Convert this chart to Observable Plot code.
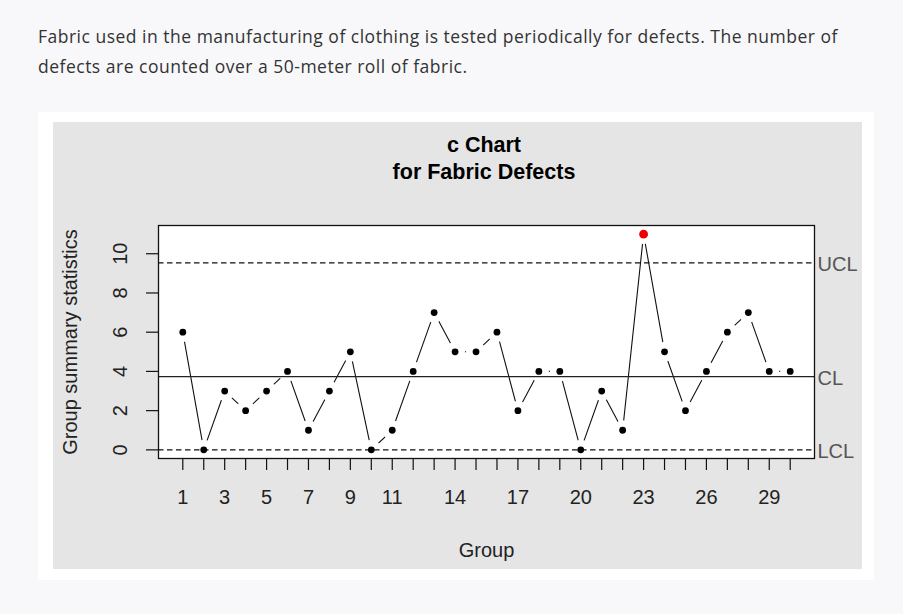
<!DOCTYPE html>
<html>
<head>
<meta charset="utf-8">
<script src="https://cdn.jsdelivr.net/npm/d3@7"></script>
<script src="https://cdn.jsdelivr.net/npm/@observablehq/plot@0.6"></script>
<style>
  html, body { margin: 0; padding: 0; background: #f8f8fa; width: 903px; height: 614px; overflow: hidden; }
  #intro { position: absolute; left: 38px; top: 21px; font-family: "Open Sans", sans-serif; font-size: 17.5px; letter-spacing: 0.5px; line-height: 30px; color: #333; white-space: nowrap; }
  #card { position: absolute; left: 38px; top: 112px; width: 836px; height: 468px; background: #fff; }
  #panel { position: absolute; left: 53px; top: 122px; width: 809px; height: 447px; background: #e5e5e5; }
  .title { position: absolute; left: 231px; width: 400px; text-align: center; font-family: "Liberation Sans", Arial, sans-serif; font-weight: bold; font-size: 21.5px; color: #000; }
  #chart { position: absolute; left: 0; top: 0; }
</style>
</head>
<body>
<div id="intro">Fabric used in the manufacturing of clothing is tested periodically for defects. The number of<br>defects are counted over a 50-meter roll of fabric.</div>
<div id="card"></div>
<div id="panel">
  <div id="chart"></div>
  <div class="title" style="top:11px;">c Chart</div>
  <div class="title" style="top:38px;">for Fabric Defects</div>
</div>
<script>
const groups = [1,2,3,4,5,6,7,8,9,10,11,12,13,14,15,16,17,18,19,20,21,22,23,24,25,26,27,28,29,30];
const defects = [6,0,3,2,3,4,1,3,5,0,1,4,7,5,5,6,2,4,4,0,3,1,11,5,2,4,6,7,4,4];
const xTickLabels = [1,3,5,7,9,11,14,17,20,23,26,29];
const yTicks = [0,2,4,6,8,10];
const limitNames = ["UCL","CL","LCL"];

const n = defects.length;
const cbar = d3.sum(defects) / n;
const ucl = cbar + 3 * Math.sqrt(cbar);
const lcl = Math.max(0, cbar - 3 * Math.sqrt(cbar));
const limits = [
  {name: limitNames[0], value: ucl, dashed: true},
  {name: limitNames[1], value: cbar, dashed: false},
  {name: limitNames[2], value: lcl, dashed: true}
];
const data = groups.map((g, i) => ({group: g, value: defects[i], out: defects[i] > ucl || defects[i] < lcl}));

const font = '"Liberation Sans", Arial, sans-serif';
const chart = Plot.plot({
  width: 809,
  height: 447,
  marginLeft: 105,
  marginRight: 48,
  marginTop: 103,
  marginBottom: 111,
  style: {background: "transparent", fontFamily: font, fontSize: "20px", color: "#222", overflow: "visible"},
  x: {domain: [1 - 29 * 0.04, 30 + 29 * 0.04]},
  y: {domain: [-11 * 0.04, 11 + 11 * 0.04]},
  marks: [
    Plot.frame({fill: "white", stroke: null}),
    Plot.line(data, {x: "group", y: "value", stroke: "#111", strokeWidth: 1.1}),
    Plot.dot(data, {x: "group", y: "value", r: 10, fill: "white", stroke: null}),
    Plot.ruleY(limits.filter(d => d.dashed), {y: "value", stroke: "#111", strokeWidth: 1.3, strokeDasharray: "5.5,3.5"}),
    Plot.ruleY(limits.filter(d => !d.dashed), {y: "value", stroke: "#222", strokeWidth: 1.2}),
    Plot.dot(data.filter(d => !d.out), {x: "group", y: "value", r: 3.4, fill: "#000"}),
    Plot.dot(data.filter(d => d.out), {x: "group", y: "value", r: 4.4, fill: "#ee0000"}),
    Plot.frame({stroke: "#111", strokeWidth: 1.3}),
    Plot.axisX({ticks: groups, tickSize: 12, tickFormat: () => "", stroke: "#111", strokeWidth: 1.2, label: null}),
    Plot.text(xTickLabels, {x: d => d, text: d => String(d), frameAnchor: "bottom", dy: 39, lineAnchor: "middle", fontSize: 20, fill: "#222"}),
    Plot.axisY({ticks: yTicks, tickSize: 12, tickFormat: () => "", stroke: "#111", strokeWidth: 1.2, label: null}),
    Plot.text(yTicks, {y: d => d, text: d => String(d), frameAnchor: "left", dx: -38, rotate: -90, textAnchor: "middle", lineAnchor: "middle", fontSize: 20, fill: "#222"}),
    Plot.text(["Group summary statistics"], {frameAnchor: "left", dx: -88, rotate: -90, textAnchor: "middle", lineAnchor: "middle", fontSize: 20, fill: "#222"}),
    Plot.text(["Group"], {frameAnchor: "bottom", dy: 92, textAnchor: "middle", lineAnchor: "middle", fontSize: 20, fill: "#222"}),
    Plot.text(limits, {y: "value", text: "name", frameAnchor: "right", dx: 3, dy: 2, textAnchor: "start", lineAnchor: "middle", fontSize: 20, fill: "#555"})
  ]
});
document.getElementById("chart").appendChild(chart);
</script>
</body>
</html>
